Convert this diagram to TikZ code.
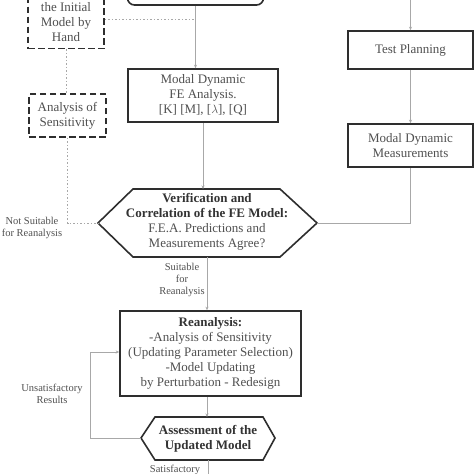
\documentclass[tikz,border=0pt]{standalone}
\usepackage{fontspec}
\setmainfont{Liberation Serif}
\usetikzlibrary{arrows.meta}
\definecolor{boxc}{HTML}{2E2E2E}
\definecolor{txtc}{HTML}{505050}
\definecolor{btxt}{HTML}{333333}
\definecolor{linec}{HTML}{A8A8A8}
\tikzset{
  solidbox/.style={draw=boxc, line width=1.6pt, rectangle, inner sep=0pt, align=center,
    text=txtc, font=\fontsize{13}{15}\selectfont},
  dashbox/.style={draw=boxc, line width=1.8pt, dash pattern=on 6.5pt off 3.5pt, rectangle,
    inner sep=0pt, align=center, text=txtc, font=\fontsize{13}{15}\selectfont},
  hexline/.style={draw=boxc, line width=1.6pt, line join=miter},
  hextext/.style={align=center, text=txtc, inner sep=0pt, font=\fontsize{13}{15}\selectfont},
  conn/.style={draw=linec, line width=0.8pt},
  arr/.style={conn, -{Stealth[length=3.5pt,width=3pt]}},
  dotconn/.style={draw=linec, line width=0.8pt, dash pattern=on 1.5pt off 2pt},
  lab/.style={align=center, text=txtc, inner sep=0pt, font=\fontsize{10.5}{12}\selectfont},
}
\begin{document}
\begin{tikzpicture}[x=1pt,y=-1pt]
\useasboundingbox (0,0) rectangle (474,474);
\clip (0,0) rectangle (474,474);
\fill[white] (0,0) rectangle (474,474);

% top rounded box (mostly cut off)
\node[draw=boxc, line width=1.6pt, rounded corners=7pt, minimum width=136pt, minimum height=40pt] (start) at (195.5,-15) {};

% dashed initial model box
\node[dashbox, minimum width=76pt, minimum height=70pt] (init) at (66,13.5)
  {\strut\\the Initial\\Model by\\Hand};

% analysis of sensitivity dashed box
\node[dashbox, minimum width=77pt, minimum height=43pt] (sens) at (67.5,115.5)
  {Analysis of\\Sensitivity};

% FE analysis box
\node[solidbox, minimum width=150pt, minimum height=53pt] (fe) at (203,95.5)
  {Modal Dynamic\\FE Analysis.\\{[K] [M], [$\lambda$], [Q]}};

% test planning
\node[solidbox, minimum width=125pt, minimum height=38pt] (tp) at (410.5,50)
  {Test Planning};

% modal dynamic measurements
\node[solidbox, minimum width=125pt, minimum height=43pt] (mdm) at (410.5,145.5)
  {Modal Dynamic\\Measurements};

% verification hexagon
\coordinate (vL) at (98,223);
\coordinate (vR) at (317,223);
\coordinate (vT) at (203,189);
\coordinate (vB) at (207,257);
\draw[hexline] (vL) -- (133,189) -- (280,189) -- (vR) -- (280,257) -- (133,257) -- cycle;
\node[hextext] (ver) at (207,222)
  {{\color{btxt}\bfseries Verification and}\\{\color{btxt}\bfseries Correlation of the FE Model:}\\F.E.A. Predictions and\\Measurements Agree?};

% reanalysis box
\node[solidbox, minimum width=181pt, minimum height=85pt] (rea) at (210.5,353.5)
  {{\color{btxt}\bfseries Reanalysis:}\\-Analysis of Sensitivity\\(Updating Parameter Selection)\\-Model Updating\\by Perturbation - Redesign};

% assessment hexagon
\coordinate (aL) at (141,438);
\coordinate (aT) at (207,417);
\coordinate (aB) at (208,460);
\draw[hexline] (aL) -- (155,417) -- (263,417) -- (275,438) -- (263,460) -- (155,460) -- cycle;
\node[hextext] (ass) at (208,439)
  {{\color{btxt}\bfseries Assessment of the}\\{\color{btxt}\bfseries Updated Model}};

% labels
\node[lab] (lns) at (32,228) {Not Suitable\\for Reanalysis};
\node[lab] (ls) at (182,280) {Suitable\\for\\Reanalysis};
\node[lab] (lu) at (52,394) {Unsatisfactory\\Results};
\node[lab] (lsat) at (175,470) {Satisfactory};

% connectors
\coordinate (j1) at (195.5,19);
\draw[arr] (start.south) -- (start.south |- fe.north);
\draw[dotconn] (init.east |- j1) -- (j1);
\draw[dotconn] (init.south) -- (init.south |- sens.north);
\draw[dotconn] (sens.south) -- (sens.south |- vL) -- (vL);
\draw[arr] (fe.south) -- (vT);
\coordinate (tpin) at (410.5,-10);
\draw[arr] (tpin) -- (tp.north);
\draw[arr] (tp.south) -- (mdm.north);
\draw[conn] (mdm.south) -- (mdm.south |- vR) -- (vR);
\draw[arr] (vB) -- (rea.north -| vB);
\draw[arr] (rea.south -| aT) -- (aT);
\coordinate (lp) at (90,352);
\draw[arr] (aL) -- (lp |- aL) -- (lp) -- (lp -| rea.west);
\coordinate (bot) at (208,480);
\draw[conn] (aB) -- (bot);
\end{tikzpicture}
\end{document}
